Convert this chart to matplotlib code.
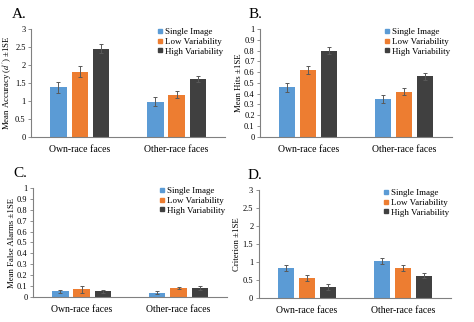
import numpy as np
import matplotlib
matplotlib.use("Agg")
import matplotlib.pyplot as plt
from matplotlib.lines import Line2D

plt.rcParams["font.family"] = ["Liberation Serif", "DejaVu Serif"]
plt.rcParams["mathtext.fontset"] = "stix"

categories = ["Own-race faces", "Other-race faces"]
conditions = ["Single Image", "Low Variability", "High Variability"]
colors = ["#5B9BD5", "#ED7D31", "#404040"]

# panel A: accuracy d'
acc_mean = [[1.38, 0.98], [1.81, 1.17], [2.45, 1.61]]
acc_se = [[0.15, 0.12], [0.15, 0.10], [0.13, 0.09]]
# panel B: hits
hit_mean = [[0.46, 0.35], [0.62, 0.42], [0.80, 0.56]]
hit_se = [[0.04, 0.04], [0.04, 0.035], [0.03, 0.03]]
# panel C: false alarms
fa_mean = [[0.05, 0.04], [0.07, 0.08], [0.05, 0.08]]
fa_se = [[0.01, 0.01], [0.03, 0.01], [0.01, 0.02]]
# panel D: criterion
crit_mean = [[0.83, 1.02], [0.56, 0.83], [0.30, 0.62]]
crit_se = [[0.09, 0.08], [0.08, 0.07], [0.08, 0.06]]

panels = [
    ("A.", acc_mean, acc_se, "Mean Accuracy ($d'$) \u00b11SE", 3, 0.5,
     [0.066, 0.575, 0.409, 0.335], -0.10),
    ("B.", hit_mean, hit_se, "Mean Hits \u00b11SE", 1, 0.1,
     [0.549, 0.575, 0.405, 0.335], -0.06),
    ("C.", fa_mean, fa_se, "Mean False Alarms \u00b11SE", 1, 0.1,
     [0.070, 0.078, 0.409, 0.338], -0.10),
    ("D.", crit_mean, crit_se, "Criterion \u00b11SE", 3, 0.5,
     [0.546, 0.075, 0.405, 0.335], -0.06),
]

fig = plt.figure(figsize=(4.74, 3.22), dpi=100)
x = np.arange(len(categories))
w = 0.17
offs = [-0.22, 0, 0.22]

for letter, means, ses, ylab, ymax, step, pos, lx in panels:
    ax = fig.add_axes(pos)
    for i in range(3):
        ax.bar(x + offs[i], means[i], w, color=colors[i], zorder=2)
        ax.errorbar(x + offs[i], means[i], yerr=ses[i], fmt="none",
                    ecolor="#595959", elinewidth=0.7, capsize=1.5,
                    capthick=0.7, zorder=3)
    ax.set_xlim(-0.5, 1.5)
    ax.set_ylim(0, ymax)
    ticks = np.arange(0, ymax + step / 2, step)
    ax.set_yticks(ticks)
    ax.set_yticklabels(["{:g}".format(round(t, 1)) for t in ticks])
    ax.set_xticks(x)
    ax.set_xticklabels(categories, fontsize=7)
    ax.tick_params(axis="x", length=0, pad=6)
    ax.tick_params(axis="y", length=2, width=0.6, labelsize=6, pad=2,
                   color="#808080")
    for s in ["top", "right"]:
        ax.spines[s].set_visible(False)
    for s in ["left", "bottom"]:
        ax.spines[s].set_color("#808080")
        ax.spines[s].set_linewidth(0.8)
    ax.set_ylabel(ylab, fontsize=6.3, labelpad=1)
    ax.text(lx, 1.13, letter, transform=ax.transAxes, fontsize=11,
            va="center", ha="left")
    handles = [Line2D([], [], marker="s", linestyle="none", color=c,
                      markersize=3.5) for c in colors]
    ax.legend(handles, conditions, loc="upper right",
              bbox_to_anchor=(1.02, 1.06), frameon=False, fontsize=6.5,
              handlelength=0.6, handletextpad=0.3, labelspacing=0.15,
              borderaxespad=0.2)

fig.savefig("out.png", dpi=100)
